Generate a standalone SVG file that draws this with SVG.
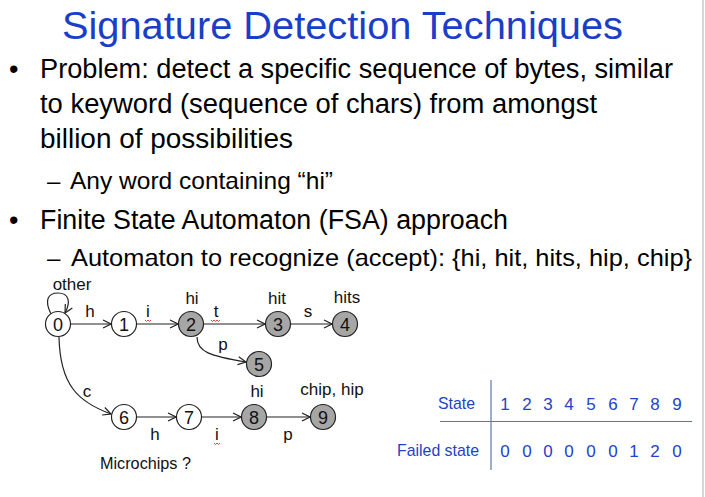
<svg xmlns="http://www.w3.org/2000/svg" width="705" height="497" viewBox="0 0 705 497">
<defs>
<style>
.t{font-family:"Liberation Sans",Arial,sans-serif;fill:#000}
.title{font-family:"Liberation Sans",Arial,sans-serif;fill:#1a3ec8;font-size:38px}
.b{font-size:27px}
.s{font-size:24px}
.lab{font-family:"Liberation Sans",Arial,sans-serif;font-size:17px;fill:#111}
.num{font-family:"Liberation Sans",Arial,sans-serif;font-size:18px;fill:#111;text-anchor:middle}
.tab{font-family:"Liberation Sans",Arial,sans-serif;font-size:17px;fill:#2243c8}
.tn{text-anchor:middle}
.n circle{stroke:#222;stroke-width:1.2}
.w circle{fill:#fff}
.g circle{fill:#a6a6a6}
.e{fill:none;stroke:#222;stroke-width:1.2}
.sq{fill:none;stroke:#e03030;stroke-width:0.9}
</style>
<marker id="ah" viewBox="0 0 10 10" refX="9" refY="5" markerWidth="10" markerHeight="10" markerUnits="userSpaceOnUse" orient="auto">
<path d="M1,1 L9,5 L1,9" fill="none" stroke="#222" stroke-width="1.2"/>
</marker>
</defs>
<rect width="705" height="497" fill="#fff"/>
<line x1="703" y1="0" x2="703" y2="497" stroke="#c8c8c8" stroke-width="1.5"/>

<g id="title"><text class="title" x="62" y="39" textLength="561" lengthAdjust="spacingAndGlyphs">Signature Detection Techniques</text></g>

<g id="bullets">
<text class="t b" x="9" y="78">•</text>
<text class="t b" x="40" y="78" textLength="633" lengthAdjust="spacingAndGlyphs">Problem: detect a specific sequence of bytes, similar</text>
<text class="t b" x="40" y="113" textLength="557" lengthAdjust="spacingAndGlyphs">to keyword (sequence of chars) from amongst</text>
<text class="t b" x="40" y="148" textLength="253" lengthAdjust="spacingAndGlyphs">billion of possibilities</text>
<text class="t s" x="47" y="189">–</text>
<text class="t s" x="70" y="189" textLength="263" lengthAdjust="spacingAndGlyphs">Any word containing “hi”</text>
<text class="t b" x="9" y="229">•</text>
<text class="t b" x="40" y="229" textLength="468" lengthAdjust="spacingAndGlyphs">Finite State Automaton (FSA) approach</text>
<text class="t s" x="47" y="266">–</text>
<text class="t s" x="71" y="266" textLength="621" lengthAdjust="spacingAndGlyphs">Automaton to recognize (accept): {hi, hit, hits, hip, chip}</text>
</g>

<g id="connectors">
<path class="e" d="M51,314 C44,300 48,293 58,293 C69,293 71,302 65,313" marker-end="url(#ah)"/>
<line class="e" x1="71" y1="324" x2="111" y2="324" marker-end="url(#ah)"/>
<line class="e" x1="137" y1="324" x2="178" y2="324" marker-end="url(#ah)"/>
<line class="e" x1="204" y1="324" x2="265" y2="324" marker-end="url(#ah)"/>
<line class="e" x1="291" y1="324" x2="332" y2="324" marker-end="url(#ah)"/>
<path class="e" d="M197,337 C197,352 210,356 246,362" marker-end="url(#ah)"/>
<path class="e" d="M59,337 C60,385 78,402 111,414" marker-end="url(#ah)"/>
<line class="e" x1="137" y1="417" x2="176" y2="417" marker-end="url(#ah)"/>
<line class="e" x1="202" y1="417" x2="241" y2="417" marker-end="url(#ah)"/>
<line class="e" x1="267" y1="417" x2="310" y2="417" marker-end="url(#ah)"/>
</g>

<g id="edge-labels">
<text class="lab" x="72" y="290" text-anchor="middle">other</text>
<text class="lab" x="90" y="317" text-anchor="middle">h</text>
<text class="lab" x="148" y="317" text-anchor="middle">i</text>
<path class="sq" d="M145,320 l1.5,1.5 l1.5,-1.5 l1.5,1.5 l1.5,-1.5"/>
<text class="lab" x="216" y="317" text-anchor="middle">t</text>
<path class="sq" d="M211,320 l1.5,1.5 l1.5,-1.5 l1.5,1.5 l1.5,-1.5 l1.5,1.5 l1.5,-1.5"/>
<text class="lab" x="308" y="317" text-anchor="middle">s</text>
<text class="lab" x="223" y="350" text-anchor="middle">p</text>
<text class="lab" x="87" y="397" text-anchor="middle">c</text>
<text class="lab" x="155" y="440" text-anchor="middle">h</text>
<text class="lab" x="217" y="440" text-anchor="middle">i</text>
<path class="sq" d="M214,443 l1.5,1.5 l1.5,-1.5 l1.5,1.5 l1.5,-1.5"/>
<text class="lab" x="288" y="440" text-anchor="middle">p</text>
<text class="lab" x="192" y="304" text-anchor="middle">hi</text>
<text class="lab" x="277" y="304" text-anchor="middle">hit</text>
<text class="lab" x="347" y="303" text-anchor="middle">hits</text>
<text class="lab" x="257" y="397" text-anchor="middle">hi</text>
<text class="lab" x="332" y="395" text-anchor="middle">chip, hip</text>
<text class="lab" x="100" y="469" textLength="91" lengthAdjust="spacingAndGlyphs">Microchips ?</text>
</g>

<g id="node-0" class="n w"><circle cx="58" cy="324" r="12.5"/><text class="num" x="58" y="330.5">0</text></g>
<g id="node-1" class="n w"><circle cx="124" cy="324" r="12.5"/><text class="num" x="124" y="330.5">1</text></g>
<g id="node-2" class="n g"><circle cx="191" cy="324" r="12.5"/><text class="num" x="191" y="330.5">2</text></g>
<g id="node-3" class="n g"><circle cx="278" cy="324" r="12.5"/><text class="num" x="278" y="330.5">3</text></g>
<g id="node-4" class="n g"><circle cx="345" cy="324" r="12.5"/><text class="num" x="345" y="330.5">4</text></g>
<g id="node-5" class="n g"><circle cx="259" cy="364" r="12.5"/><text class="num" x="259" y="370.5">5</text></g>
<g id="node-6" class="n w"><circle cx="124" cy="417" r="12.5"/><text class="num" x="124" y="423.5">6</text></g>
<g id="node-7" class="n w"><circle cx="189" cy="417" r="12.5"/><text class="num" x="189" y="423.5">7</text></g>
<g id="node-8" class="n g"><circle cx="254" cy="417" r="12.5"/><text class="num" x="254" y="423.5">8</text></g>
<g id="node-9" class="n g"><circle cx="323" cy="417" r="12.5"/><text class="num" x="323" y="423.5">9</text></g>

<g id="table">
<line x1="491" y1="380" x2="491" y2="470" stroke="#5b7aa6" stroke-width="1.2"/>
<line x1="440" y1="421.5" x2="692" y2="421.5" stroke="#5b7aa6" stroke-width="1.2"/>
<text class="tab" x="438" y="409" textLength="37" lengthAdjust="spacingAndGlyphs">State</text>
<text class="tab" x="397" y="456" textLength="82" lengthAdjust="spacingAndGlyphs">Failed state</text>
<g class="tn">
<text class="tab" x="505" y="410">1</text><text class="tab" x="527" y="410">2</text><text class="tab" x="548" y="410">3</text><text class="tab" x="569" y="410">4</text><text class="tab" x="591" y="410">5</text><text class="tab" x="613" y="410">6</text><text class="tab" x="634" y="410">7</text><text class="tab" x="655" y="410">8</text><text class="tab" x="677" y="410">9</text>
<text class="tab" x="505" y="457">0</text><text class="tab" x="527" y="457">0</text><text class="tab" x="548" y="457">0</text><text class="tab" x="569" y="457">0</text><text class="tab" x="591" y="457">0</text><text class="tab" x="613" y="457">0</text><text class="tab" x="634" y="457">1</text><text class="tab" x="655" y="457">2</text><text class="tab" x="677" y="457">0</text>
</g>
</g>
</svg>
